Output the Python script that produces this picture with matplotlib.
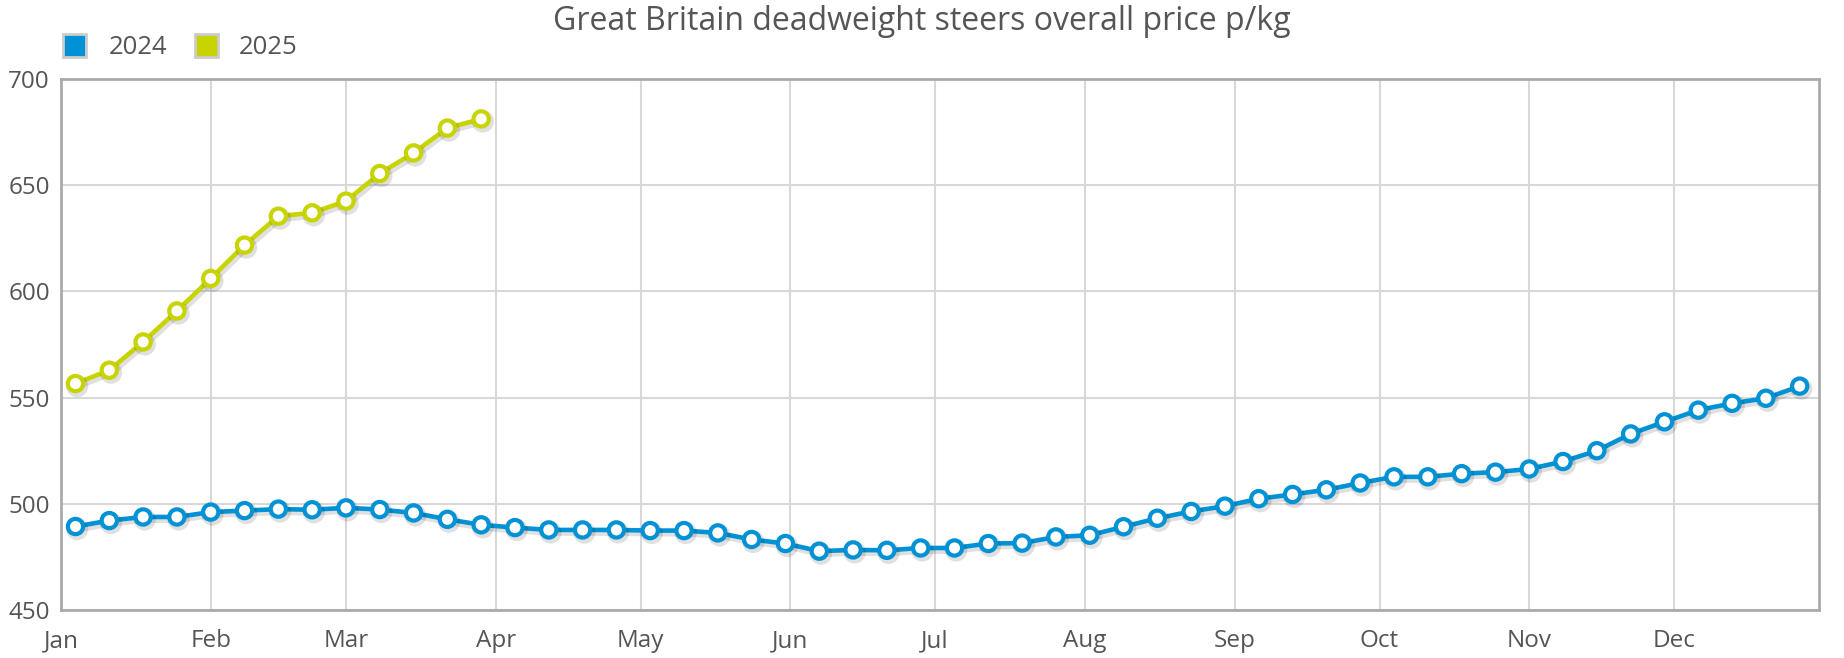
import numpy as np
import pandas as pd
import matplotlib
matplotlib.use("Agg")
import matplotlib.pyplot as plt
import matplotlib.dates as mdates
import matplotlib.patheffects as pe
from matplotlib.patches import Rectangle

# ---------------- data ----------------
title = "Great Britain deadweight steers overall price p/kg"
series_names = ["2024", "2025"]
start_date = "2025-01-04"   # weekly points plotted on a common Jan-Dec axis
values_2024 = [489.3, 492.1, 493.8, 493.8, 496.1, 496.8, 497.5, 497.2, 498.1, 497.3,
               495.7, 492.7, 490.1, 488.8, 487.7, 487.7, 487.7, 487.4, 487.4, 486.3,
               483.2, 481.3, 477.7, 478.3, 478.1, 479.2, 479.2, 481.3, 481.5, 484.4,
               485.2, 489.2, 493.2, 496.4, 498.9, 502.4, 504.4, 506.6, 509.8, 512.7,
               512.7, 514.2, 514.9, 516.4, 519.9, 525.0, 532.9, 538.6, 544.1, 547.3,
               549.7, 555.4]
values_2025 = [556.6, 562.9, 576.2, 590.8, 606.1, 621.8, 635.4, 637.0, 642.5, 655.5,
               665.2, 676.9, 681.2]
month_labels = ["Jan", "Feb", "Mar", "Apr", "May", "Jun", "Jul", "Aug", "Sep", "Oct", "Nov", "Dec"]
y_ticks = [450, 500, 550, 600, 650, 700]
colors = ["#0092d5", "#c8d400"]

# ---------------- figure ----------------
W, H = 1844, 658
fig = plt.figure(figsize=(W / 100, H / 100), dpi=100)
fig.patch.set_facecolor("white")
FONT = ["Open Sans", "DejaVu Sans"]
TXT = "#555555"

ax = fig.add_axes([61 / W, 1 - 610 / H, (1819 - 61) / W, (610 - 79) / H])

dates_2024 = pd.date_range(start_date, periods=len(values_2024), freq="7D")
dates_2025 = pd.date_range(start_date, periods=len(values_2025), freq="7D")

shadow = [pe.SimpleLineShadow(offset=(1.2, -1.8), shadow_color="#000000", alpha=0.12, linewidth=5),
          pe.Normal()]
for d, v, c in [(dates_2024, values_2024, colors[0]), (dates_2025, values_2025, colors[1])]:
    ax.plot(d, v, color=c, lw=3.3, marker="o", markersize=11, markerfacecolor="white",
            markeredgecolor=c, markeredgewidth=3.0, path_effects=shadow, zorder=3,
            solid_joinstyle="round")

ax.set_xlim(pd.Timestamp("2025-01-01"), pd.Timestamp("2025-12-31"))
ax.set_ylim(y_ticks[0], y_ticks[-1])
ax.set_yticks(y_ticks)
ax.set_yticklabels([str(t) for t in y_ticks])
month_pos = pd.date_range("2025-01-01", periods=12, freq="MS")
ax.set_xticks(month_pos)
ax.set_xticklabels(month_labels)

ax.grid(True, color="#d8d8d8", lw=1.5)
ax.set_axisbelow(True)
for s in ax.spines.values():
    s.set_color("#aaaaaa")
    s.set_linewidth(2)
ax.tick_params(axis="both", length=0, labelsize=17.5, labelcolor=TXT)
ax.tick_params(axis="x", pad=14)
ax.tick_params(axis="y", pad=8)
for lab in ax.get_xticklabels() + ax.get_yticklabels():
    lab.set_family(FONT)

fig.text(0.5, 1 - 22 / H, title, ha="center", va="center", fontsize=23,
         color=TXT, family=FONT, weight="medium")

# legend
leg_items = [(63, 109), (195, 239)]
for (sx, tx), name, c in zip(leg_items, series_names, colors):
    fig.patches.append(Rectangle((sx / W, 1 - 57 / H), 23 / W, 23 / H,
                                 transform=fig.transFigure, facecolor=c,
                                 edgecolor="#cccccc", lw=2))
    fig.text(tx / W, 1 - 47 / H, name, ha="left", va="center", fontsize=18.5,
             color=TXT, family=FONT)

fig.savefig("out.png", dpi=100, facecolor="white")
